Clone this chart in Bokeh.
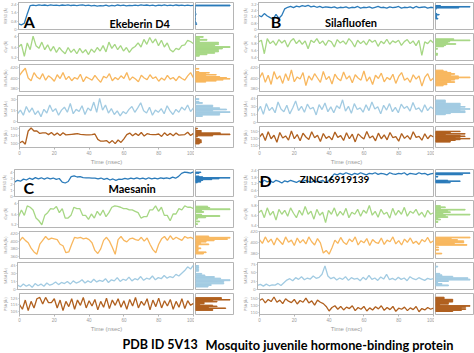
import numpy as np
from bokeh.plotting import figure
from bokeh.layouts import row, column
from bokeh.models import Range1d, FixedTicker, Label
from bokeh.embed import file_html
from bokeh.resources import INLINE

# ---------------- data ----------------
X_TICKS = [0, 20, 40, 60, 80, 100]
PROPERTIES = ["RMSD (Å)", "rGyr (Å)", "MolSA (Å²)", "SASA (Å²)", "PSA (Å²)"]
COLORS = ["#2b7bba", "#a6d784", "#f8b75e", "#a2cbe2", "#b0601f"]

panel_letters = ["A", "B", "C", "D"]
panel_names = ["Ekeberin   D4", "Silafluofen", "Maesanin", "ZINC16919139"]
caption_left = "PDB ID  5V13"
caption_right = "Mosquito juvenile hormone-binding protein"

# Panel A : Ekeberin D4
a_rmsd = [0.55,0.45,0.6,1.5,2.3,2.35,2.3,2.38,2.33,2.36,2.3,2.37,2.32,2.35,2.3,2.36,2.33,2.38,2.31,2.35,2.3,2.34,2.37,2.3,2.35,2.28,2.33,2.25,2.3,2.27,2.35,2.26,2.32,2.28,2.36,2.3,2.34,2.27,2.33,2.29,2.35,2.3,2.38,2.32,2.36,2.3,2.34,2.28,2.35,2.31,2.37,2.3,2.34,2.29,2.36,2.31,2.35,2.29,2.34,2.3,2.32]
a_rgyr = [5.6,5.7,5.25,5.75,5.5,6.0,5.65,5.55,5.78,5.5,5.68,5.45,5.62,5.4,5.58,5.45,5.35,5.58,5.4,5.52,5.35,5.55,5.38,5.5,5.32,5.52,5.4,5.58,5.45,5.65,5.42,5.78,5.55,5.7,5.5,5.65,5.45,5.58,5.4,5.55,5.62,5.75,5.6,5.88,5.7,5.95,5.75,5.9,5.65,5.85,5.6,5.75,5.5,5.42,5.55,5.5,5.65,5.68,5.85,5.8,5.72]
a_molsa = [405,412,418,400,395,410,402,398,408,396,404,400,394,406,399,410,397,403,395,401,398,407,393,402,399,396,405,398,392,403,400,408,395,401,397,404,399,410,396,402,398,393,405,400,397,406,399,402,394,400,396,405,398,401,395,403,399,396,404,410,400]
a_sasa = [10,15,8,20,12,18,9,14,6,16,11,22,13,17,8,15,19,12,24,10,16,13,21,9,18,14,26,12,31,15,22,11,17,9,14,7,13,10,16,20,12,18,25,14,11,19,8,15,12,17,10,21,14,9,16,12,19,15,22,13,18]
a_psa = [100,106,96,140,150,140,140,132,134,134,128,135,126,133,125,134,127,128,129,130,131,129,128,127,127,128,130,112,106,106,108,100,108,98,110,102,114,128,133,124,132,125,135,123,131,129,128,128,130,122,134,125,132,124,133,126,127,128,136,125,132]

# Panel B : Silafluofen
b_rmsd = [1.8,1.6,2.0,1.7,1.5,1.3,1.9,1.4,1.8,2.6,2.8,2.9,2.75,2.95,2.85,3.0,2.9,3.05,2.85,2.95,2.8,2.9,2.75,2.85,2.8,2.75,2.85,2.7,2.8,2.75,2.85,2.7,2.8,2.75,2.9,2.7,2.8,2.75,2.85,2.7,2.8,2.9,2.75,2.8,2.7,2.85,2.75,2.8,2.9,2.7,2.8,2.75,2.85,2.7,2.9,2.75,2.8,2.85,2.7,2.8,2.75]
b_rgyr = [5.85,5.9,5.5,5.95,5.8,5.88,5.75,5.92,5.82,5.9,5.7,5.87,5.95,5.8,5.9,5.78,5.88,5.65,5.9,5.83,5.95,5.8,5.88,5.75,5.9,5.85,5.7,5.92,5.82,5.88,5.78,5.95,5.85,5.7,5.9,5.8,5.88,5.76,5.92,5.84,5.9,5.72,5.87,5.8,5.93,5.78,5.88,5.83,5.9,5.75,5.86,5.92,5.8,5.88,5.74,5.9,5.45,5.85,5.8,5.9,5.82]
b_molsa = [400,410,392,405,388,412,398,404,390,408,395,415,393,402,398,410,386,404,396,408,400,392,412,397,403,389,407,399,395,411,398,404,391,406,400,396,413,394,402,388,405,399,409,393,401,397,407,390,403,410,396,400,392,406,398,404,385,401,408,395,400]
b_sasa = [20,30,15,35,22,28,18,38,25,20,32,16,27,40,22,30,19,34,25,28,14,33,24,36,20,29,18,31,26,42,21,30,17,35,24,27,19,33,22,38,25,29,16,32,23,35,20,28,18,34,26,30,21,37,24,27,19,33,22,29,25]
b_psa = [135,145,125,150,130,140,120,148,132,138,126,152,130,142,124,146,135,128,150,133,140,122,145,131,137,127,149,134,139,125,147,130,143,121,144,136,129,151,132,138,124,146,130,141,127,148,133,136,123,145,131,139,128,150,134,137,126,144,130,140,135]

# Panel C : Maesanin
c_rmsd = [2.4,2.7,2.55,2.9,2.75,3.05,2.85,3.15,2.95,3.12,2.9,3.12,2.95,3.08,2.85,3.0,2.4,2.25,2.5,3.3,3.42,3.25,3.3,3.15,3.12,3.1,3.05,3.05,2.95,3.08,2.85,3.02,2.75,2.92,2.7,2.88,2.85,3.02,2.9,3.08,2.95,3.12,2.95,3.08,2.9,3.12,2.95,3.08,2.95,3.12,3.0,3.12,2.98,3.22,3.05,3.35,3.85,4.05,4.0,3.9,4.1]
c_rgyr = [5.5,5.75,5.55,5.9,5.85,5.75,5.45,5.35,5.2,5.55,5.65,5.8,5.78,5.88,5.65,5.8,5.45,5.45,5.55,5.85,5.8,5.8,5.55,5.55,5.4,5.6,5.45,5.7,5.55,5.75,5.5,5.65,5.85,5.9,5.88,5.85,5.8,5.8,5.75,5.75,5.7,5.65,5.45,5.5,5.5,5.75,5.75,5.9,5.7,5.85,5.55,5.55,5.35,5.6,5.6,5.8,5.75,5.9,5.85,5.85,5.8]
c_molsa = [400,410,402,396,382,372,366,392,402,412,404,408,406,404,392,388,370,372,392,410,408,410,406,408,404,396,376,368,380,402,410,400,384,366,404,412,402,398,406,408,404,402,410,400,408,392,378,370,392,406,412,402,414,404,410,406,402,412,408,410,406]
c_sasa = [8,5,10,6,9,4,11,7,10,6,12,8,10,14,9,13,11,15,10,16,12,14,18,12,16,13,19,14,17,15,20,13,18,16,22,15,19,17,23,16,20,18,24,17,21,19,25,18,22,20,26,21,24,22,28,25,30,35,42,38,45]
c_psa = [115,108,122,106,120,110,124,126,116,126,118,118,124,110,122,106,120,112,124,108,122,114,126,110,121,113,123,107,120,111,125,109,122,114,124,111,121,108,123,113,126,110,120,114,124,107,122,112,125,110,121,113,123,108,120,111,124,109,121,114,117]

# Panel D : ZINC16919139
d_rmsd = [1.4,1.3,1.5,1.35,1.45,1.3,1.5,1.4,1.25,1.45,1.35,1.5,1.4,1.3,1.45,1.35,1.5,1.4,1.3,1.45,1.35,1.4,1.5,1.3,1.45,1.8,2.1,2.0,2.15,2.05,2.2,2.1,2.0,2.15,2.05,2.2,2.1,2.0,2.15,2.1,2.2,2.05,2.15,2.1,2.0,2.2,2.1,2.05,2.15,2.1,2.2,2.0,2.15,2.1,2.05,2.2,2.1,2.15,2.0,2.1,2.15]
d_rgyr = [5.65,5.7,5.55,5.75,5.6,5.68,5.5,5.72,5.62,5.7,5.58,5.75,5.64,5.55,5.7,5.6,5.78,5.62,5.68,5.52,5.72,5.6,5.66,5.45,5.7,5.62,5.75,5.58,5.68,5.6,5.74,5.55,5.66,5.62,5.72,5.58,5.7,5.64,5.8,5.6,5.68,5.56,5.72,5.62,5.66,5.54,5.74,5.6,5.7,5.62,5.76,5.58,5.68,5.64,5.72,5.6,5.66,5.56,5.7,5.62,5.65]
d_molsa = [405,398,410,400,406,395,408,402,396,410,400,404,394,408,399,405,397,410,401,395,407,399,380,385,378,390,404,398,409,400,396,406,401,410,395,403,399,407,394,405,400,398,408,396,404,401,410,397,403,395,406,400,408,398,402,396,405,401,409,399,403]
d_sasa = [12,15,10,16,11,14,13,18,12,20,28,32,26,35,30,38,29,34,31,40,33,36,45,70,40,32,36,28,34,30,38,27,35,31,33,26,36,29,42,30,34,27,37,31,45,29,33,28,36,30,34,26,38,32,29,35,31,27,33,30,32]
d_psa = [145,150,138,148,142,155,140,146,136,150,143,139,148,135,145,140,152,138,144,132,146,140,136,128,115,125,130,120,128,118,126,122,130,116,125,120,128,115,124,118,127,121,130,117,125,119,128,114,123,120,126,116,124,119,128,113,122,118,125,120,123]

# axis ranges / ticks per panel (RMSD, rGyr, MolSA, SASA, PSA)
a_ranges = [(0, 2.6), (5.1, 6.1), (375, 425), (-2, 35), (85, 155)]
a_ticks = [[0, 0.8, 1.6, 2.4], [5.2, 5.6, 6.0], [380, 400, 420], [0, 15, 30], [100, 125, 150]]
b_ranges = [(0, 3.4), (5.3, 6.1), (375, 425), (0, 50), (105, 165)]
b_ticks = [[0, 0.8, 1.6, 2.4, 3.2], [5.4, 5.6, 5.8, 6.0], [380, 400, 420], [0, 15, 30, 45], [110, 130, 150]]
c_ranges = [(0, 4.5), (5.1, 6.1), (355, 425), (0, 50), (100, 132)]
c_ticks = [[0, 1, 2, 3, 4], [5.2, 5.6, 6.0], [360, 380, 400, 420], [0, 15, 30, 45], [105, 115, 125]]
d_ranges = [(0, 2.5), (5.35, 5.9), (370, 420), (0, 80), (105, 165)]
d_ticks = [[0, 0.6, 1.2, 1.8, 2.4], [5.4, 5.6, 5.8], [380, 400, 420], [0, 25, 50, 75], [110, 130, 150]]

panels = [
    dict(series=[a_rmsd, a_rgyr, a_molsa, a_sasa, a_psa], ranges=a_ranges, ticks=a_ticks),
    dict(series=[b_rmsd, b_rgyr, b_molsa, b_sasa, b_psa], ranges=b_ranges, ticks=b_ticks),
    dict(series=[c_rmsd, c_rgyr, c_molsa, c_sasa, c_psa], ranges=c_ranges, ticks=c_ticks),
    dict(series=[d_rmsd, d_rgyr, d_molsa, d_sasa, d_psa], ranges=d_ranges, ticks=d_ticks),
]

# ---------------- styling ----------------
GREY = "#9a9a9a"
FRAME = "#b5b5b5"
FONT = "Lato"

ROW_H = 31
LAST_H = 43
LINE_W = 194


def style_common(p):
    p.xgrid.visible = False
    p.ygrid.visible = False
    p.outline_line_color = FRAME
    p.outline_line_width = 1
    p.background_fill_color = "white"
    p.border_fill_color = "white"


def make_panel(pdata, hist_w, hist_right):
    rows = []
    figs = []
    for i, (vals, rng, tk) in enumerate(zip(pdata["series"], pdata["ranges"], pdata["ticks"])):
        last = i == 4
        h = LAST_H if last else ROW_H
        yr = Range1d(*rng)
        p = figure(width=LINE_W, height=h, x_range=Range1d(0, 100), y_range=yr,
                   output_backend="svg", toolbar_location=None,
                   x_axis_location="below" if last else None,
                   min_border_left=14, min_border_right=1, min_border_top=2,
                   min_border_bottom=14 if last else 2)
        style_common(p)
        t = np.linspace(0, 100, len(vals))
        p.line(t, vals, color=COLORS[i], line_width=1.3)
        # y axis
        ya = p.yaxis[0]
        ya.ticker = FixedTicker(ticks=tk)
        ya.axis_label = PROPERTIES[i]
        ya.axis_label_text_font_size = "3.5px"
        ya.axis_label_text_font_style = "normal"
        ya.axis_label_text_color = GREY
        ya.axis_label_standoff = 0
        ya.major_label_text_font_size = "4px"
        ya.major_label_text_color = GREY
        ya.major_label_text_font = FONT
        ya.major_label_standoff = 1
        ya.major_tick_out = 1
        ya.major_tick_in = 0
        ya.minor_tick_out = 0
        ya.minor_tick_in = 0
        ya.axis_line_color = FRAME
        ya.major_tick_line_color = FRAME
        if last:
            xa = p.xaxis[0]
            xa.ticker = FixedTicker(ticks=X_TICKS)
            xa.axis_line_color = FRAME
            xa.major_tick_line_color = FRAME
            xa.minor_tick_out = 0
            xa.minor_tick_in = 0
            xa.major_tick_out = 2
            xa.major_tick_in = 0
            xa.major_label_text_font_size = "4.5px"
            xa.major_label_text_color = GREY
            xa.major_label_standoff = 1
            xa.axis_label = "Time (nsec)"
            xa.axis_label_text_font_size = "6px"
            xa.axis_label_text_font_style = "normal"
            xa.axis_label_text_color = GREY
            xa.axis_label_standoff = 1
        # histogram
        counts, edges = np.histogram(vals, bins=14, range=(min(vals), max(vals)))
        centers = (edges[:-1] + edges[1:]) / 2
        bw = edges[1] - edges[0]
        hfig = figure(width=hist_w, height=h, x_range=Range1d(0, counts.max() * 1.1), y_range=yr,
                      output_backend="svg", toolbar_location=None,
                      x_axis_location=None, y_axis_location=None,
                      min_border_left=1, min_border_right=hist_right, min_border_top=2,
                      min_border_bottom=14 if last else 2)
        style_common(hfig)
        hfig.hbar(y=centers, left=0, right=counts, height=bw * 0.6, color=COLORS[i])
        rows.append(row(p, hfig, spacing=0))
        figs.append(p)
    return column(*rows, spacing=0), figs


colA, figsA = make_panel(panels[0], 46, 7)
colB, figsB = make_panel(panels[1], 40, 1)
colC, figsC = make_panel(panels[2], 46, 7)
colD, figsD = make_panel(panels[3], 40, 1)


def add_label(p, x, y, text, size):
    p.add_layout(Label(x=x, y=y, text=text, text_font=FONT, text_font_size=size,
                       text_font_style="bold", text_color="black", text_baseline="alphabetic"))


add_label(figsA[0], 3.0, 0.8, panel_letters[0], "16px")
add_label(figsA[0], 52, 0.6, panel_names[0], "11px")
add_label(figsB[0], 7.0, 0.95, panel_letters[1], "16px")
add_label(figsB[0], 38, 0.85, panel_names[1], "11px")
add_label(figsC[0], 5.0, 1.5, panel_letters[2], "16px")
add_label(figsC[0], 52.5, 1.35, panel_names[2], "11px")
add_label(figsD[0], 0.6, 1.46, panel_letters[3], "16px")
add_label(figsD[0], 23.5, 1.62, panel_names[3], "10px")

cap = figure(width=474, height=19, x_range=Range1d(0, 474), y_range=Range1d(0, 19),
             output_backend="svg", toolbar_location=None,
             x_axis_location=None, y_axis_location=None, min_border=0)
cap.xgrid.visible = False
cap.ygrid.visible = False
cap.outline_line_color = None
cap.add_layout(Label(x=122, y=9, text=caption_left, text_font=FONT, text_font_size="12.5px",
                     text_font_style="bold", text_color="black", text_baseline="alphabetic"))
cap.add_layout(Label(x=205, y=9, text=caption_right, text_font=FONT, text_font_size="12.8px",
                     text_font_style="bold", text_color="black", text_baseline="alphabetic"))

layout = column(row(colA, colB, spacing=0), row(colC, colD, spacing=0), cap, spacing=0)

open("out.html", "w").write(file_html(layout, INLINE))
